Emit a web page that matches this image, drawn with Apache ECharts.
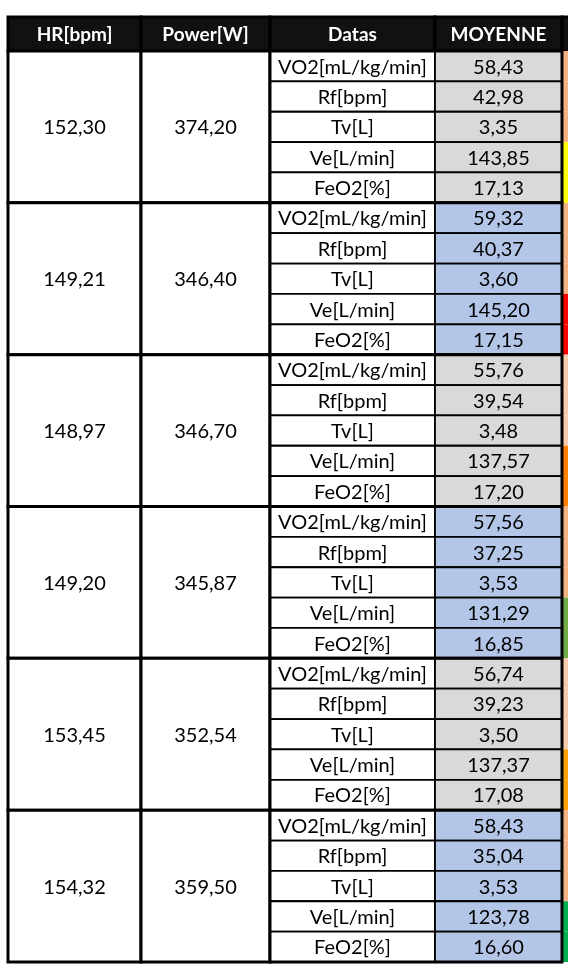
<!DOCTYPE html>
<html>
<head>
<meta charset="utf-8">
<script src="https://cdn.jsdelivr.net/npm/echarts@6/dist/echarts.min.js"></script>
<style>html,body{margin:0;padding:0;background:#fff}#main{width:568px;height:974px}</style>
</head>
<body>
<div id="main"></div>
<script>
// table content
var headers = ['HR[bpm]', 'Power[W]', 'Datas', 'MOYENNE'];
var hr = ['152,30', '149,21', '148,97', '149,20', '153,45', '154,32'];
var power = ['374,20', '346,40', '346,70', '345,87', '352,54', '359,50'];
var datas = ['VO2[mL/kg/min]', 'Rf[bpm]', 'Tv[L]', 'Ve[L/min]', 'FeO2[%]'];
var moyenne = [
	['58,43', '42,98', '3,35', '143,85', '17,13'],
	['59,32', '40,37', '3,60', '145,20', '17,15'],
	['55,76', '39,54', '3,48', '137,57', '17,20'],
	['57,56', '37,25', '3,53', '131,29', '16,85'],
	['56,74', '39,23', '3,50', '137,37', '17,08'],
	['58,43', '35,04', '3,53', '123,78', '16,60']
];
// colour of the cut-off column at the right edge
var edgeTop = ['#f4b183', '#f4b183', '#f8cbad', '#f4b183', '#f8cbad', '#f4b183'];
var edgeBottom = ['#ffff00', '#ff0000', '#ff7f00', '#70ad47', '#ffa000', '#00b050'];

var colX = [8, 141, 270, 435, 562, 570];
var headTop = 17, headBot = 51, bodyBot = 962;
var blockH = (bodyBot - headBot) / hr.length;
var rowH = blockH / datas.length;

var cells = [];
function cell(x0, x1, y0, y1, text, fill, kind) {
	cells.push([x0, x1, y0, y1, text, fill, kind]);
}
headers.forEach(function (h, i) {
	cell(colX[i], colX[i + 1], headTop, headBot, h, '#111111', 'head');
});
cell(colX[4], colX[5], headTop, headBot, '', '#111111', 'head');
hr.forEach(function (v, b) {
	var y0 = headBot + b * blockH;
	cell(colX[0], colX[1], y0, y0 + blockH, v, '#ffffff', 'block');
	cell(colX[1], colX[2], y0, y0 + blockH, power[b], '#ffffff', 'block');
	var fill = b % 2 ? '#b4c6e7' : '#d9d9d9';
	datas.forEach(function (d, r) {
		var ry = y0 + r * rowH;
		cell(colX[2], colX[3], ry, ry + rowH, d, '#ffffff', 'row');
		cell(colX[3], colX[4], ry, ry + rowH, moyenne[b][r], fill, 'row');
		cell(colX[4], colX[5], ry, ry + rowH, '', r < 3 ? edgeTop[b] : edgeBottom[b], 'edge');
	});
	cell(colX[2], colX[4], y0, y0 + blockH, '', 'none', 'outline');
});

var chart = echarts.init(document.getElementById('main'));
chart.setOption({
	animation: false,
	grid: {left: 0, right: 0, top: 0, bottom: 0},
	xAxis: {type: 'value', min: 0, max: 568, show: false},
	yAxis: {type: 'value', min: 0, max: 974, inverse: true, show: false},
	series: [{
		type: 'custom',
		data: cells,
		renderItem: function (params, api) {
			var p0 = api.coord([api.value(0), api.value(2)]);
			var p1 = api.coord([api.value(1), api.value(3)]);
			var c = cells[params.dataIndex];
			var kind = c[6];
			var lw = kind === 'row' ? 1.8 : (kind === 'edge' ? 0 : 3);
			var children = [{
				type: 'rect',
				shape: {x: p0[0], y: p0[1], width: p1[0] - p0[0], height: p1[1] - p0[1]},
				style: {fill: c[5], stroke: kind === 'edge' ? null : '#000', lineWidth: lw}
			}];
			if (c[4]) {
				children.push({
					type: 'text',
					style: {
						text: c[4], x: (p0[0] + p1[0]) / 2, y: (p0[1] + p1[1]) / 2 + 1,
						align: 'center', verticalAlign: 'middle',
						font: kind === 'head' ? 'bold 19px Lato, sans-serif' : '20px Lato, sans-serif',
						fill: kind === 'head' ? '#ffffff' : '#000000'
					}
				});
			}
			return {type: 'group', children: children};
		}
	}]
});
</script>
</body>
</html>
